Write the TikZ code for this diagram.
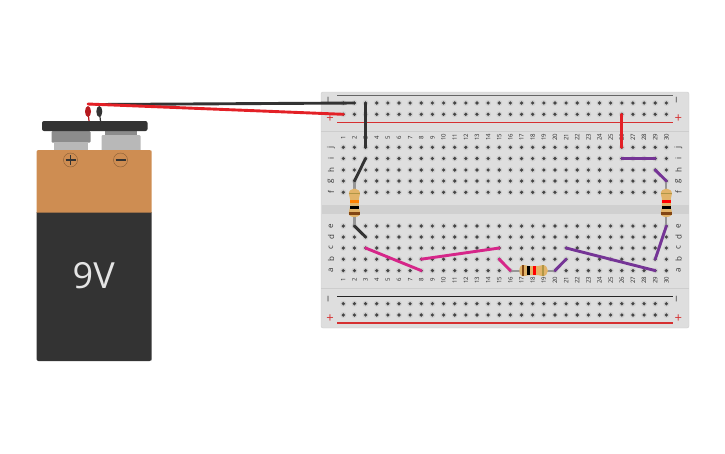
\documentclass[tikz,border=0pt]{standalone}
\usepackage{fontspec}
\setmainfont{Open Sans}
\usetikzlibrary{calc}
\definecolor{boardGrey}{RGB}{222,222,222}
\definecolor{boardEdge}{RGB}{205,205,205}
\definecolor{gutterGrey}{RGB}{208,208,208}
\definecolor{holeDark}{RGB}{70,70,70}
\definecolor{holeRim}{RGB}{208,208,208}
\definecolor{railRed}{RGB}{214,48,49}
\definecolor{wireBlack}{RGB}{51,51,51}
\definecolor{wireRed}{RGB}{227,32,38}
\definecolor{wireMagenta}{RGB}{214,38,137}
\definecolor{wirePurple}{RGB}{117,52,150}
\definecolor{batOrange}{RGB}{206,141,82}
\definecolor{batDark}{RGB}{51,51,51}
\definecolor{termDark}{RGB}{140,140,140}
\definecolor{termLight}{RGB}{184,184,184}
\definecolor{resBody}{RGB}{226,180,105}
\definecolor{resLead}{RGB}{150,150,150}
\definecolor{resBrown}{RGB}{130,70,20}
\definecolor{resGold}{RGB}{176,150,70}
\tikzset{
  wire/.style={line width=2.9pt, line cap=round},
  hole/.style={circle, inner sep=0pt, minimum size=3.6pt, fill=holeDark},
  rim/.style={fill=holeRim},
  pinlabel/.style={font=\fontsize{6}{6}\selectfont, text=black!85, rotate=90, inner sep=0pt},
  rowlabel/.style={font=\fontsize{8}{8}\selectfont, text=black!80, rotate=90, inner sep=0pt},
  railplus/.style={font=\fontsize{13}{13}\selectfont, text=railRed, inner sep=0pt},
  railminus/.style={font=\fontsize{12}{12}\selectfont, text=black!70, rotate=90, inner sep=0pt},
  resistor/.pic={
    % drawn along +x, lead to lead is 45 long
    \draw [resLead, line width=2.2pt] (0,0) -- (45,0);
    \fill [resBody] (9,0) .. controls (9,-4.5) and (11,-6) .. (14,-5.5)
      .. controls (16,-5) and (17,-4.4) .. (19,-4.4) -- (27,-4.4)
      .. controls (29,-4.4) and (30,-5) .. (32,-5.5)
      .. controls (35,-6) and (37.5,-3) .. (37.5,0)
      .. controls (37.5,3) and (35,6) .. (32,5.5)
      .. controls (30,5) and (29,4.4) .. (27,4.4) -- (19,4.4)
      .. controls (17,4.4) and (16,5) .. (14,5.5)
      .. controls (11,6) and (9,4.5) .. (9,0) -- cycle;
    \fill [resBrown] (11.2,-5.6) rectangle (14,5.6);
    \fill [black] (16.6,-4.8) rectangle (19.6,4.8);
    \fill [#1] (22.8,-4.4) rectangle (25.8,4.4);
    \fill [resGold] (32,-5.5) rectangle (33.4,5.5);
  },
}
\newcommand{\colx}[1]{343.3+11.14*(#1-1)}

\begin{document}
\begin{tikzpicture}[x=1pt, y=-1pt]
\useasboundingbox (0,0) rectangle (725,453);

% Battery
\fill [termDark, rounded corners=1pt] (51.5,131) rectangle (90.5,142.5);
\fill [termLight] (54,142) rectangle (87.5,151);
\fill [termDark] (104.5,131) rectangle (137,136);
\fill [termLight, rounded corners=1pt] (101.5,135) rectangle (140.5,151);
\fill [batDark] (36.5,212) [sharp corners] -- (36.5,359) [rounded corners=2pt] -- (36.5,361) -- (151.5,361) -- (151.5,359) [sharp corners] -- (151.5,212) -- cycle;
\fill [batOrange] (36.5,212.5) [sharp corners] -- (36.5,152) [rounded corners=2pt] -- (36.5,150) -- (151.5,150) -- (151.5,152) [sharp corners] -- (151.5,212.5) -- cycle;
\fill [batDark, rounded corners=2pt] (42,121) rectangle (147.5,131);
\node (plus) [circle, draw=black!35!batOrange, inner sep=0pt, minimum size=14pt] at (70.5,160) {};
\node (minus) [circle, draw=black!35!batOrange, inner sep=0pt, minimum size=14pt] at (120.5,160) {};
\draw [batDark, line width=1.2pt] (65.5,160) -- (75.5,160) (70.5,155) -- (70.5,165);
\draw [batDark, line width=1.2pt] (115.5,160) -- (125.5,160);
\node (volts) at (93.7,276) [text=black!10, font=\fontsize{36}{36}\selectfont, inner sep=0pt] {9V};

% Breadboard
\fill [boardGrey, rounded corners=2pt, draw=boardEdge] (321,92) rectangle (689,328);
\fill [gutterGrey] (321.5,205) rectangle (688.5,214);
\draw [boardEdge] (321,131) -- (689,131) (321,288) -- (689,288);
\draw [black!60, line width=1.3pt] (337,95.8) -- (673,95.8);
\draw [railRed, line width=1pt] (337,122.5) -- (673,122.5);
\draw [black!85, line width=1pt] (337,296.2) -- (673,296.2);
\draw [railRed, line width=1.2pt] (337,323) -- (673,323);
\foreach \px/\py in {330/100, 678.3/100, 330/299, 678.3/299} {
  \node [railminus] at (\px,\py) {−};
}
\foreach \px/\py in {330/119, 678.3/119, 330/319, 678.3/319} {
  \node [railplus] at (\px,\py) {+};
}

% Holes
\foreach \name/\py in {T/103, U/114.3, j/147.3, i/158.5, h/170, g/181, f/192.3, e/226, d/237, c/248, b/259.2, a/270.6, V/303.7, W/315} {
  \foreach \c in {1,...,30} {
    \fill [rim] ({\colx{\c}},\py) circle (3pt);
    \node (\name-\c) [hole] at ({\colx{\c}},\py) {};
  }
}
\foreach \c in {1,...,30} {
  \node [pinlabel] at ({\colx{\c}},137.5) {\c};
  \node [pinlabel] at ({\colx{\c}},280) {\c};
}
\foreach \name/\py in {j/147.3, i/158.5, h/170, g/181, f/192.3, e/226, d/237, c/248, b/259.2, a/270.6} {
  \node [rowlabel] at (331,\py) {\name};
  \node [rowlabel] at (678.5,\py) {\name};
}

% Resistors
\path (e-2.center) pic [rotate=90] {resistor=orange};
\path (e-30.center) pic [rotate=90] {resistor=red};
\path (a-16.center) pic {resistor=red};

% Wires
\coordinate (clipRed) at (88,104);
\coordinate (clipBlack) at (99,104.5);
\draw [wireRed!80!black, line width=1.2pt] (89,121) -- (88,111);
\draw [wireBlack, line width=1.2pt] (100.5,121) -- (99.3,111);
\fill [wireRed!80!black] (88,111.5) ellipse (3pt and 5.5pt);
\fill [wireBlack] (99.3,111.5) ellipse (3pt and 5.5pt);
\draw [wire, wireBlack] (clipBlack) -- (T-2.center);
\draw [wire, wireRed] (clipRed) -- (U-1.center);
\draw [wire, wireRed, line width=2pt] (clipRed) -- (clipBlack);
\draw [wire, wireBlack] (T-3.center) -- (j-3.center);
\draw [wire, wireBlack] (i-3.center) -- (g-2.center);
\draw [wire, wireBlack] (e-2.center) -- (d-3.center);
\draw [wire, wireMagenta] (c-3.center) -- (a-8.center);
\draw [wire, wireMagenta] (b-8.center) -- (c-15.center);
\draw [wire, wireMagenta] (b-15.center) -- (a-16.center);
\draw [wire, wirePurple] (a-20.center) -- (b-21.center);
\draw [wire, wirePurple] (c-21.center) -- (a-29.center);
\draw [wire, wirePurple] (b-29.center) -- (e-30.center);
\draw [wire, wireRed] (U-26.center) -- (j-26.center);
\draw [wire, wirePurple] (i-26.center) -- (i-29.center);
\draw [wire, wirePurple] (h-29.center) -- (g-30.center);
\end{tikzpicture}
\end{document}
